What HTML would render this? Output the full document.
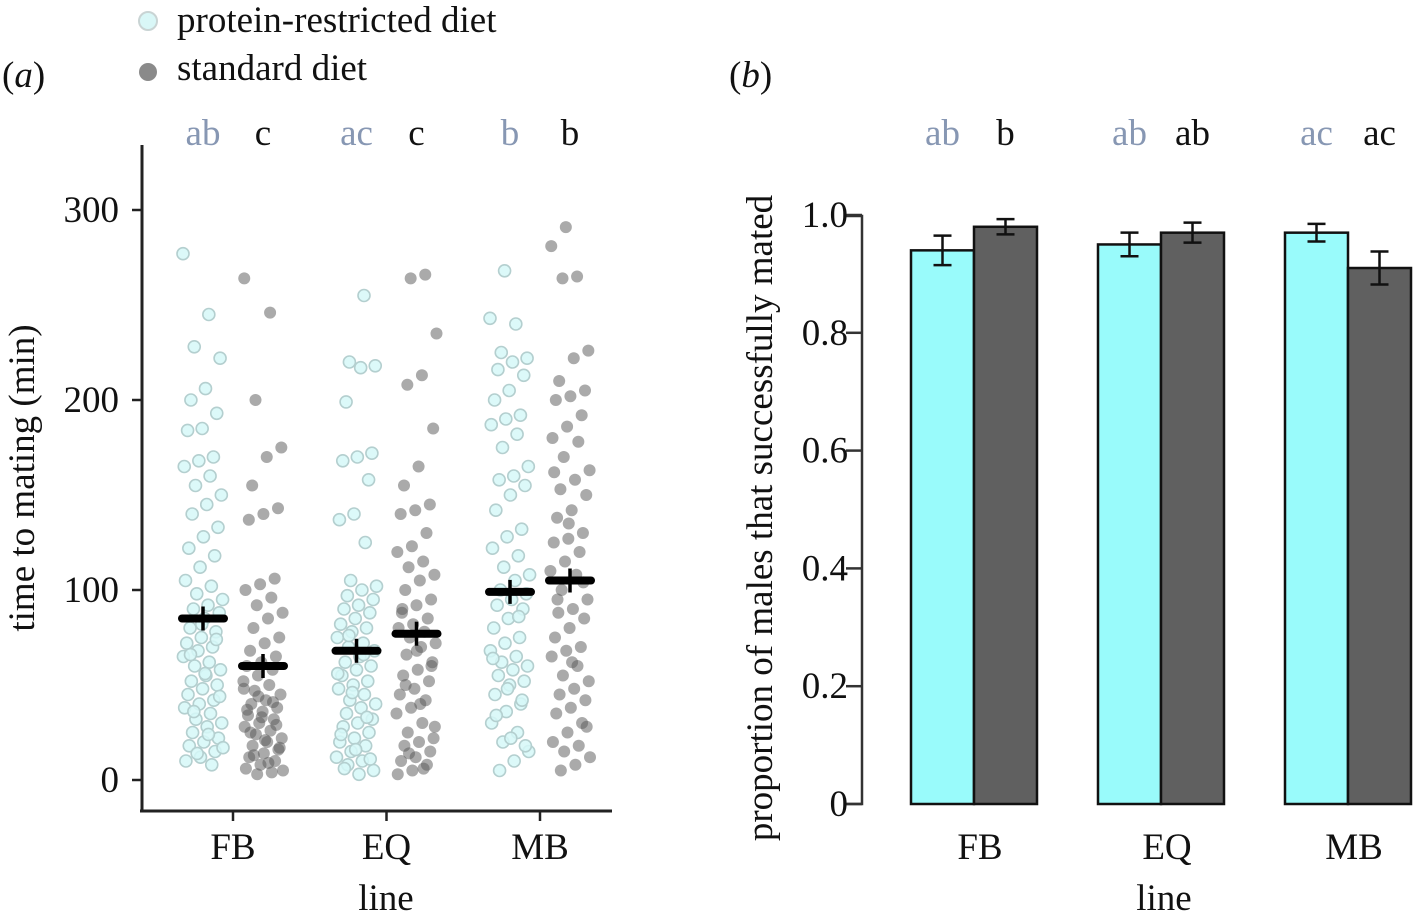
<!DOCTYPE html>
<html><head><meta charset="utf-8"><style>
body{margin:0;background:#fff}
svg{display:block}
text{font-family:"Liberation Serif",serif}
</style></head><body>
<svg id="fig" width="1414" height="920" viewBox="0 0 1414 920" xmlns="http://www.w3.org/2000/svg">
<g>
<circle cx="148" cy="21" r="9" fill="#d9f7f7" stroke="#c9d4d4" stroke-width="2"/>
<text x="177" y="32" font-size="37" fill="#111">protein-restricted diet</text>
<circle cx="148" cy="72" r="9" fill="#8a8a8a"/>
<text x="177" y="80" font-size="37" fill="#111">standard diet</text>
</g>
<text x="2" y="87" font-size="37" fill="#111">(<tspan font-style="italic">a</tspan>)</text>
<text x="729" y="87" font-size="37" fill="#111">(<tspan font-style="italic">b</tspan>)</text>
<g id="left"></g>
<g id="right"></g>
</svg>
<script>
const NS="http://www.w3.org/2000/svg";
function mk(tag,attrs,parent,txt){const e=document.createElementNS(NS,tag);for(const k in attrs)e.setAttribute(k,attrs[k]);if(txt!==undefined)e.textContent=txt;parent.appendChild(e);return e;}
const FS=37;

// ---- Panel (a) data ----
const lines=["FB","EQ","MB"];
const yTicksA=[0,100,200,300];
const fbProtein=[277,245,228,222,206,200,193,185,184,170,168,165,160,155,150,145,140,133,128,122,118,112,105,102,98,95,92,90,88,85,80,78,75,72,70,68,65,62,60,58,55,52,50,48,45,42,40,38,35,32,30,28,25,22,20,18,15,12,10,8,14,17,24,36,44,56,66,74,82];
const fbStandard=[264,246,200,175,170,155,143,140,137,106,103,100,96,92,88,85,80,75,72,68,65,62,60,58,55,52,50,47,45,42,40,38,36,34,32,30,28,26,24,22,20,18,16,14,12,10,8,6,4,3,5,9,13,17,21,25,29,33,37,41,44,48];
const eqProtein=[255,220,218,217,199,172,170,168,158,140,137,125,105,102,100,97,95,92,90,88,85,82,80,78,75,72,70,68,65,62,60,58,55,52,50,48,45,42,40,38,35,32,30,28,25,22,20,18,15,12,10,8,5,3,6,11,16,24,33,46,56,66,76];
const eqStandard=[266,264,235,213,208,185,165,155,145,142,140,130,123,120,115,112,108,105,100,95,92,88,85,82,80,78,75,72,70,66,62,58,55,52,48,45,42,38,35,30,25,22,20,18,15,12,10,8,5,3,6,14,28,40,50,60,68,90];
const mbProtein=[268,243,240,225,222,220,216,213,205,200,192,190,187,182,175,165,160,158,155,150,142,132,128,122,118,112,108,105,100,98,95,92,90,85,80,75,72,68,65,62,60,58,55,52,50,45,40,36,30,25,20,15,10,5,18,22,34,42,48,64,86];
const mbStandard=[291,281,265,264,226,222,210,205,202,200,192,186,180,178,170,163,158,153,150,142,138,130,127,125,120,115,110,108,100,95,90,88,85,80,75,70,68,65,60,55,52,48,45,42,38,35,30,25,20,18,15,12,8,5,28,62,95,104,135,162];
const protein=[fbProtein,eqProtein,mbProtein];
const standard=[fbStandard,eqStandard,mbStandard];
const meansProtein=[85,68,99];
const meansStandard=[60,77,105];
const lettersA=[["ab","c"],["ac","c"],["b","b"]];

const L=document.getElementById("left");
const ya=v=>780-v*1.9;
const xCenterA=i=>233+i*153.5;
const ay=mk("line",{x1:142,y1:145,x2:142,y2:812,stroke:"#222","stroke-width":3},L);

const axx=mk("line",{x1:140,y1:811,x2:612,y2:811,stroke:"#222","stroke-width":3},L);

yTicksA.forEach(t=>{
 const tk=mk("line",{x1:132,y1:ya(t),x2:142,y2:ya(t),stroke:"#222","stroke-width":2.5},L);
 
 
 const tl=mk("text",{x:119,y:ya(t)+12,"font-size":FS,"text-anchor":"end",fill:"#111"},L,String(t));
 
 
});
const yt=mk("text",{x:0,y:0,"font-size":FS,"text-anchor":"middle",fill:"#111",transform:"translate(34,478) rotate(-90)"},L,"time to mating (min)");


const xt=mk("text",{x:386,y:910,"font-size":FS,"text-anchor":"middle",fill:"#111"},L,"line");


lines.forEach((ln,i)=>{
 const cx=xCenterA(i);
 const tk=mk("line",{x1:cx,y1:811,x2:cx,y2:821,stroke:"#222","stroke-width":2.5},L);
 
 
 const lb=mk("text",{x:cx,y:859,"font-size":FS,"text-anchor":"middle",fill:"#111"},L,ln);
 
 
 [[protein[i],meansProtein[i],-30,"protein"],[standard[i],meansStandard[i],30,"standard"]].forEach(([vals,m,off,kind],s)=>{
  const gx=cx+off;
  vals.forEach((v,j)=>{
   const h=((j*7919+s*3301+i*104729)%97)/96;
   const jit=(h-0.5)*2*20;
   const c=mk("circle",{cx:gx+jit,cy:ya(v),r:6},L);
   if(kind==="protein"){c.setAttribute("fill","#d6f8f8");c.setAttribute("fill-opacity","0.85");c.setAttribute("stroke","#b4cfcf");c.setAttribute("stroke-width","1.6");}
   else{c.setAttribute("fill","#555");c.setAttribute("fill-opacity","0.5");}
   
   
  });
  const hm=mk("line",{x1:gx-21,y1:ya(m),x2:gx+21,y2:ya(m),stroke:"#000","stroke-width":8,"stroke-linecap":"round"},L);
  
  
  const vv=mk("line",{x1:gx,y1:ya(m)-12,x2:gx,y2:ya(m)+12,stroke:"#000","stroke-width":3.5},L);
  
  
  const lt=mk("text",{x:gx,y:145,"font-size":FS,"text-anchor":"middle",fill:s===0?"#8797b3":"#111"},L,lettersA[i][s]);
  
  
 });
});

// ---- Panel (b) data ----
const yTicksB=[0,0.2,0.4,0.6,0.8,1.0];
const propProtein=[0.94,0.95,0.97];
const propStandard=[0.98,0.97,0.91];
const errProtein=[0.025,0.02,0.015];
const errStandard=[0.013,0.017,0.028];
const lettersB=[["ab","b"],["ab","ab"],["ac","ac"]];

const R=document.getElementById("right");
const yb=v=>804-v*589;
const xGroupB=i=>974+i*187;
const ax=mk("polyline",{points:"846,216 862,216 862,804 846,804",fill:"none",stroke:"#333","stroke-width":2.5},R);

yTicksB.forEach(t=>{
 const tk=mk("line",{x1:846,y1:yb(t),x2:862,y2:yb(t),stroke:"#333","stroke-width":2.5},R);
 
 
 const tl=mk("text",{x:848,y:yb(t)+12,"font-size":FS,"text-anchor":"end",fill:"#111"},R,t===0?"0":t.toFixed(1));
 
 
});
const yt2=mk("text",{x:0,y:0,"font-size":FS,"text-anchor":"middle",fill:"#111",transform:"translate(772,518) rotate(-90)"},R,"proportion of males that successfully mated");


const xt2=mk("text",{x:1164,y:910,"font-size":FS,"text-anchor":"middle",fill:"#111"},R,"line");


lines.forEach((ln,i)=>{
 const gx=xGroupB(i);
 const lb=mk("text",{x:gx+6,y:859,"font-size":FS,"text-anchor":"middle",fill:"#111"},R,ln);
 
 
 [[propProtein[i],errProtein[i],"#99fbfb",-63,"protein"],[propStandard[i],errStandard[i],"#606060",0,"standard"]].forEach(([v,e,col,off,kind],s)=>{
  const x0=gx+off;
  const b=mk("rect",{x:x0,y:yb(v),width:63,height:yb(0)-yb(v),fill:col,stroke:"#111","stroke-width":2.5},R);
  
  
  const cx=x0+31.5;
  const g=mk("g",{stroke:"#111","stroke-width":2.5},R);
  
  
  mk("line",{x1:cx,y1:yb(v+e),x2:cx,y2:yb(v-e)},g);
  mk("line",{x1:cx-9,y1:yb(v+e),x2:cx+9,y2:yb(v+e)},g);
  mk("line",{x1:cx-9,y1:yb(v-e),x2:cx+9,y2:yb(v-e)},g);
  const lt=mk("text",{x:cx,y:145,"font-size":FS,"text-anchor":"middle",fill:s===0?"#8797b3":"#111"},R,lettersB[i][s]);
  
  
 });
});
</script>
</body></html>
